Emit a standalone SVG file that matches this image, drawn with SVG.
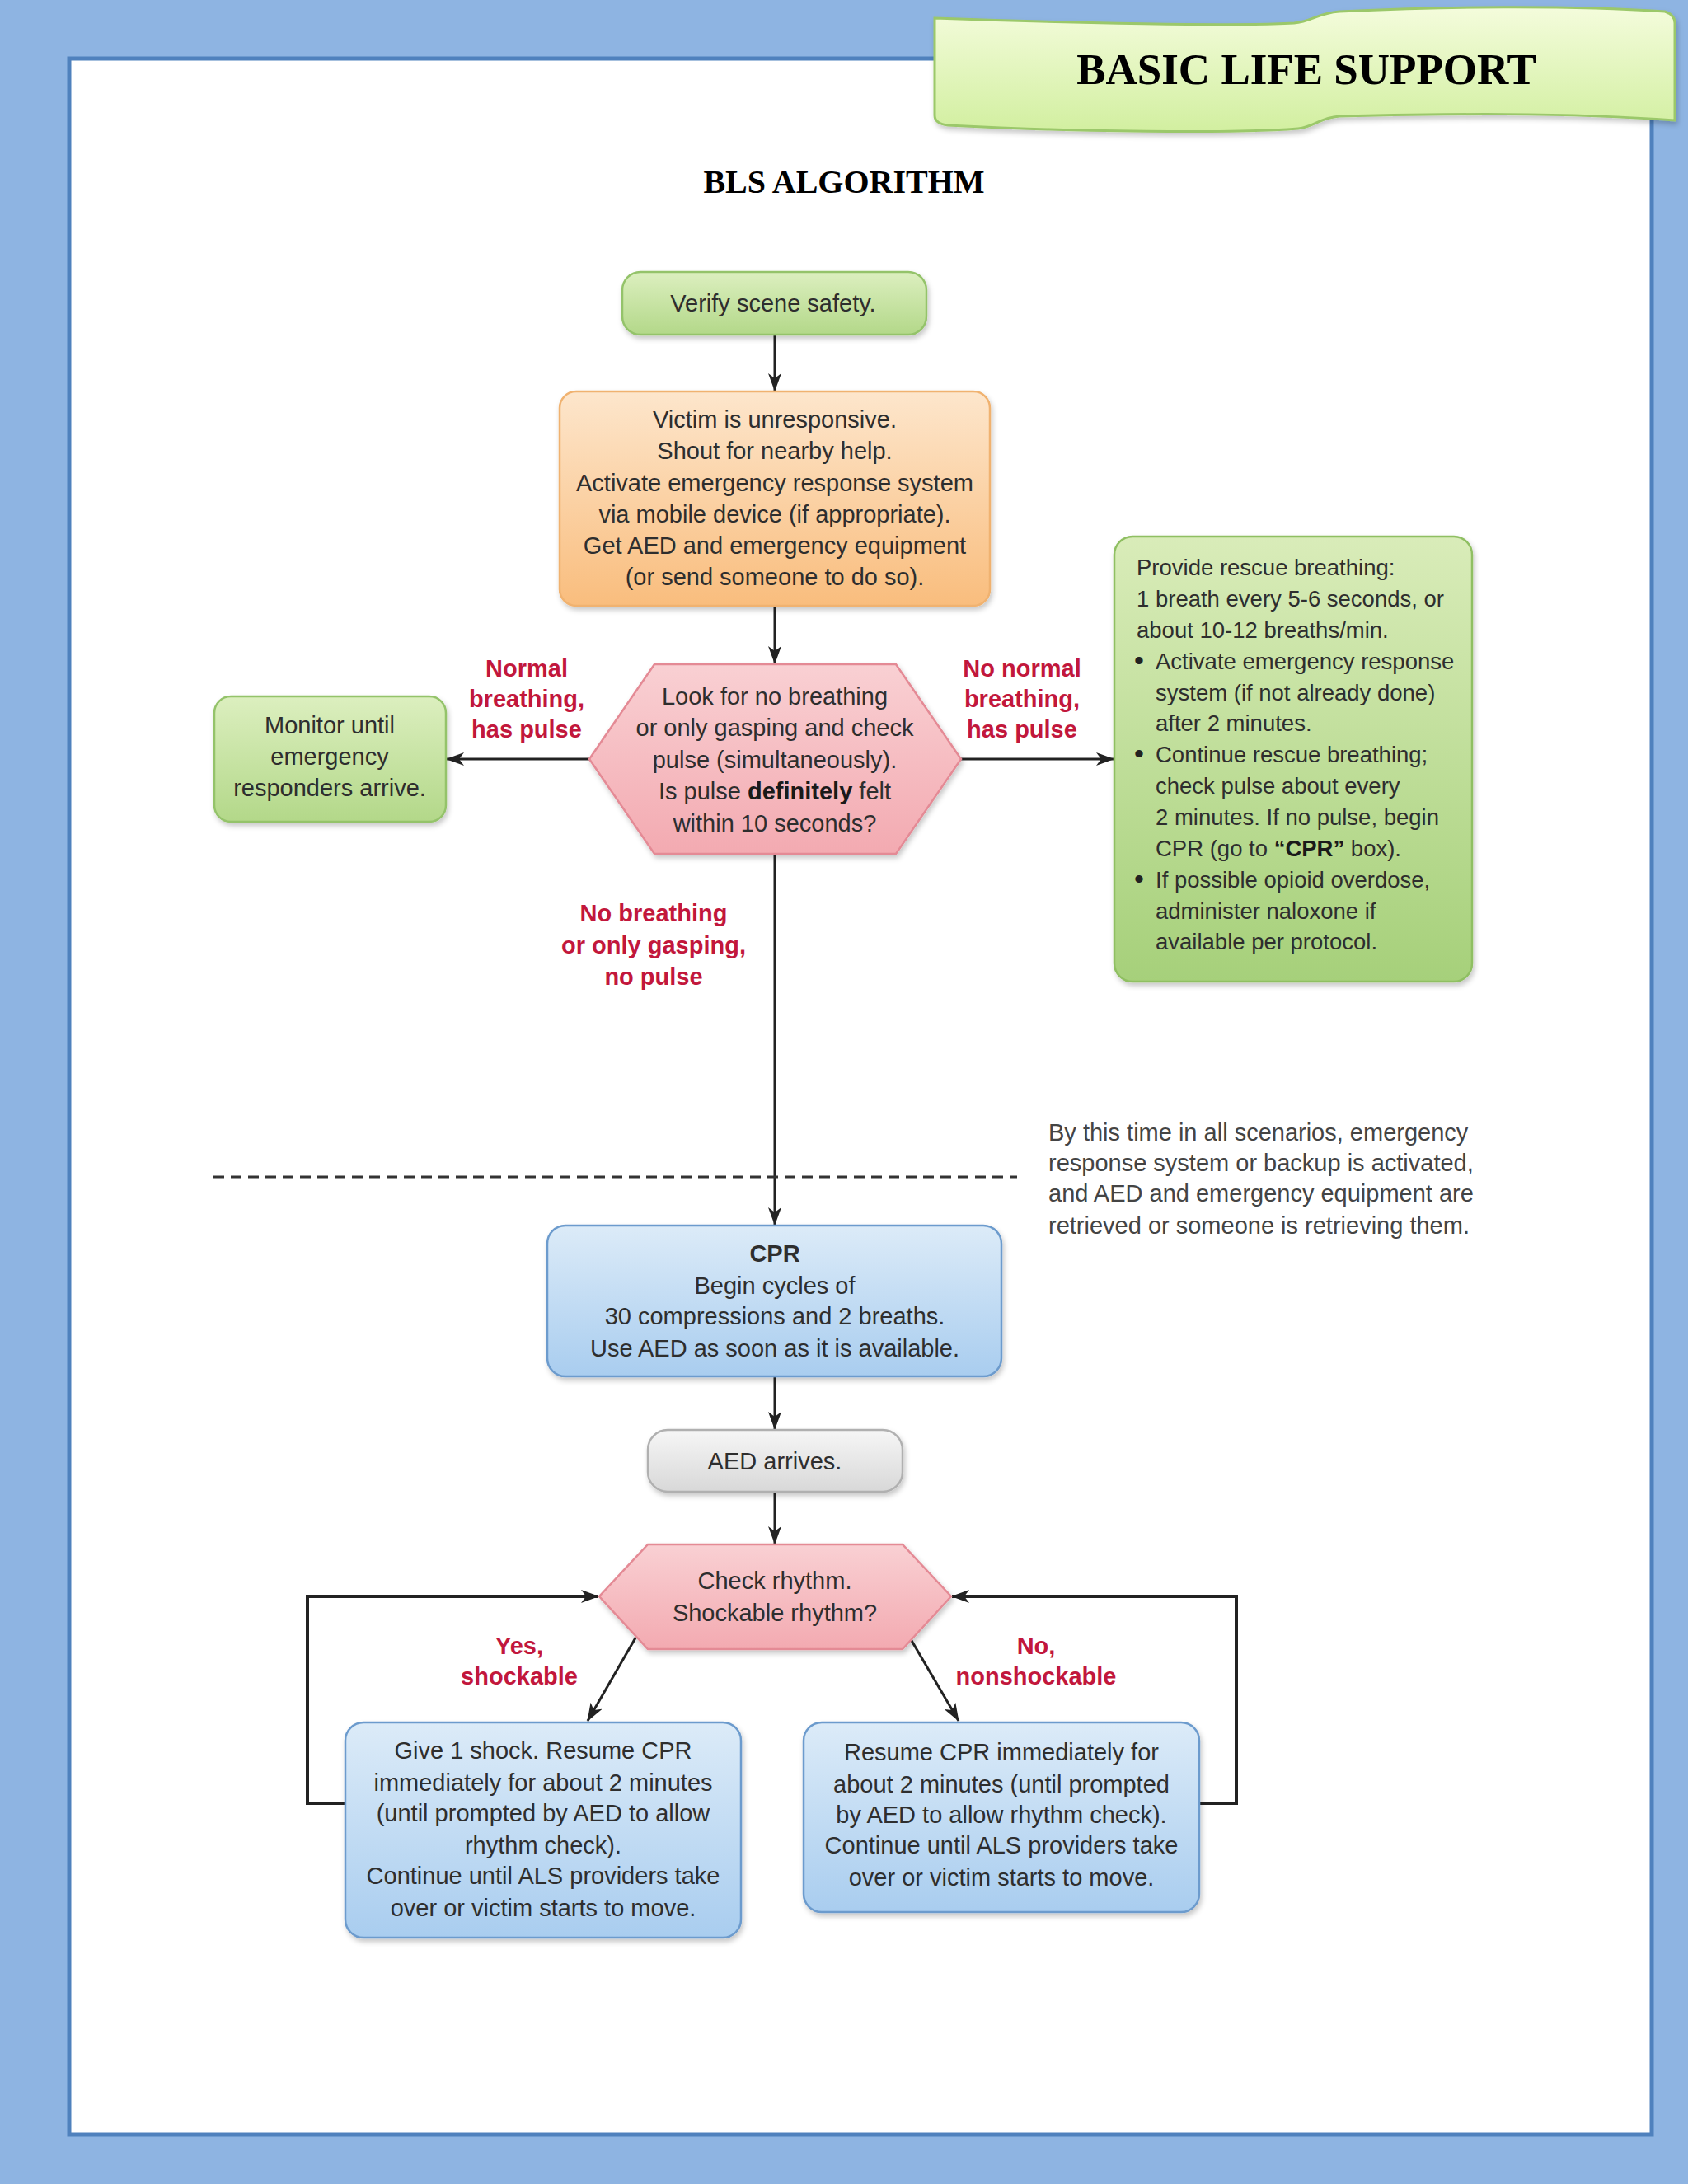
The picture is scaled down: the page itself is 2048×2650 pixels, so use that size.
<svg xmlns="http://www.w3.org/2000/svg" width="2048" height="2650" viewBox="0 0 2048 2650">
<defs>
<linearGradient id="gGreen" x1="0" y1="0" x2="0" y2="1"><stop offset="0" stop-color="#dcefbf"/><stop offset="1" stop-color="#b3d889"/></linearGradient>
<linearGradient id="gGreen2" x1="0" y1="0" x2="0" y2="1"><stop offset="0" stop-color="#d9ecb9"/><stop offset="1" stop-color="#a6d07a"/></linearGradient>
<linearGradient id="gOrange" x1="0" y1="0" x2="0" y2="1"><stop offset="0" stop-color="#fde6cc"/><stop offset="1" stop-color="#f9bd7d"/></linearGradient>
<linearGradient id="gPink" x1="0" y1="0" x2="0" y2="1"><stop offset="0" stop-color="#f9d0d3"/><stop offset="1" stop-color="#f3aab1"/></linearGradient>
<linearGradient id="gBlue" x1="0" y1="0" x2="0" y2="1"><stop offset="0" stop-color="#dcebf8"/><stop offset="1" stop-color="#a9cdef"/></linearGradient>
<linearGradient id="gGray" x1="0" y1="0" x2="0" y2="1"><stop offset="0" stop-color="#f6f6f6"/><stop offset="1" stop-color="#d8d8d8"/></linearGradient>
<linearGradient id="gBanner" x1="0" y1="0" x2="0" y2="1"><stop offset="0" stop-color="#f4fcdc"/><stop offset="1" stop-color="#d2efa0"/></linearGradient>
<filter id="sh" x="-10%" y="-10%" width="120%" height="130%"><feDropShadow dx="2" dy="4" stdDeviation="3" flood-color="#000" flood-opacity="0.22"/></filter>
<marker id="arr" markerUnits="userSpaceOnUse" markerWidth="22" markerHeight="16" refX="21" refY="8" orient="auto"><path d="M0,0 L22,8 L0,16 L6,8 Z" fill="#222"/></marker>
<style>
.t{font-family:"Liberation Sans",Arial,sans-serif;font-size:29px;fill:#2e2e2e;text-anchor:middle}
.tl{font-family:"Liberation Sans",Arial,sans-serif;font-size:27.5px;fill:#2e2e2e}
.bul{font-family:"Liberation Sans",Arial,sans-serif;font-size:34px;fill:#222}
.lab{font-family:"Liberation Sans",Arial,sans-serif;font-size:29px;font-weight:bold;fill:#c2173c;text-anchor:middle}
.note{font-family:"Liberation Sans",Arial,sans-serif;font-size:29px;fill:#444}
.c{fill:none;stroke:#222;stroke-width:3;marker-end:url(#arr)}
.loop{fill:none;stroke:#222;stroke-width:4;marker-end:url(#arr)}
.hd{font-family:"Liberation Serif","Times New Roman",serif;font-weight:bold;fill:#000;text-anchor:middle}
</style>
</defs>
<rect x="0" y="0" width="2048" height="2650" fill="#8eb4e2"/>
<rect x="84" y="71" width="1920" height="2519" fill="#ffffff" stroke="#4f81bd" stroke-width="5"/>

<g id="banner">
<path d="M1134,22 C1300,28 1500,32 1570,28 C1592,26 1598,16 1625,14 C1750,8 1900,6 2020,14 Q2032,18 2032,28 L2032,146 C1900,136 1750,138 1625,141 C1600,143 1595,154 1575,156 C1500,162 1300,160 1150,152 Q1134,150 1134,140 Z" fill="url(#gBanner)" stroke="#9bc86a" stroke-width="3" filter="url(#sh)"/>
<text class="hd" x="1585" y="102" font-size="53">BASIC LIFE SUPPORT</text>
</g>
<text class="hd" x="1024" y="234" font-size="40">BLS ALGORITHM</text>

<g id="connectors">
<path class="c" d="M940,406 L940,474"/>
<path class="c" d="M940,735 L940,805"/>
<path class="c" d="M715,921 L542,921"/>
<path class="c" d="M1166,921 L1351,921"/>
<path class="c" d="M940,1036 L940,1486"/>
<path class="c" d="M940,1670 L940,1734"/>
<path class="c" d="M940,1810 L940,1873"/>
<path class="c" d="M777,1977 L713,2088"/>
<path class="c" d="M1098,1977 L1163,2088"/>
<path class="loop" d="M419,2188 L373,2188 L373,1937 L726,1937"/>
<path class="loop" d="M1455,2188 L1500,2188 L1500,1937 L1155,1937"/>
<line x1="259" y1="1428" x2="1234" y2="1428" stroke="#333" stroke-width="3" stroke-dasharray="13 8"/>
</g>

<g id="verify">
<rect x="755" y="330" width="369" height="76" rx="22" fill="url(#gGreen)" stroke="#94c36a" stroke-width="2.5" filter="url(#sh)"/>
<text class="t" x="938" y="378">Verify scene safety.</text>
</g>

<g id="victim">
<rect x="679" y="475" width="522" height="260" rx="20" fill="url(#gOrange)" stroke="#f0b26f" stroke-width="2.5" filter="url(#sh)"/>
<text class="t" x="940" y="519">Victim is unresponsive.</text>
<text class="t" x="940" y="557">Shout for nearby help.</text>
<text class="t" x="940" y="596">Activate emergency response system</text>
<text class="t" x="940" y="634">via mobile device (if appropriate).</text>
<text class="t" x="940" y="672">Get AED and emergency equipment</text>
<text class="t" x="940" y="710">(or send someone to do so).</text>
</g>

<g id="check-breathing">
<polygon points="715,921 794,806 1087,806 1166,921 1087,1036 794,1036" fill="url(#gPink)" stroke="#e48a95" stroke-width="2.5" filter="url(#sh)"/>
<text class="t" x="940" y="855">Look for no breathing</text>
<text class="t" x="940" y="893">or only gasping and check</text>
<text class="t" x="940" y="932">pulse (simultaneously).</text>
<text class="t" x="940" y="970">Is pulse <tspan font-weight="bold" fill="#1a1a1a">definitely</tspan> felt</text>
<text class="t" x="940" y="1009">within 10 seconds?</text>
</g>

<g id="label-normal">
<text class="lab" x="639" y="821">Normal</text>
<text class="lab" x="639" y="858">breathing,</text>
<text class="lab" x="639" y="895">has pulse</text>
</g>
<g id="label-no-normal">
<text class="lab" x="1240" y="821">No normal</text>
<text class="lab" x="1240" y="858">breathing,</text>
<text class="lab" x="1240" y="895">has pulse</text>
</g>

<g id="monitor">
<rect x="260" y="845" width="281" height="152" rx="20" fill="url(#gGreen)" stroke="#94c36a" stroke-width="2.5" filter="url(#sh)"/>
<text class="t" x="400" y="890">Monitor until</text>
<text class="t" x="400" y="928">emergency</text>
<text class="t" x="400" y="966">responders arrive.</text>
</g>

<g id="rescue-breathing">
<rect x="1352" y="651" width="434" height="540" rx="22" fill="url(#gGreen2)" stroke="#8fbf62" stroke-width="2.5" filter="url(#sh)"/>
<text class="tl" x="1379" y="698">Provide rescue breathing:</text>
<text class="tl" x="1379" y="736">1 breath every 5-6 seconds, or</text>
<text class="tl" x="1379" y="774">about 10-12 breaths/min.</text>
<text class="bul" x="1376" y="813">•</text>
<text class="tl" x="1402" y="812">Activate emergency response</text>
<text class="tl" x="1402" y="850">system (if not already done)</text>
<text class="tl" x="1402" y="887">after 2 minutes.</text>
<text class="bul" x="1376" y="926">•</text>
<text class="tl" x="1402" y="925">Continue rescue breathing;</text>
<text class="tl" x="1402" y="963">check pulse about every</text>
<text class="tl" x="1402" y="1001">2 minutes. If no pulse, begin</text>
<text class="tl" x="1402" y="1039">CPR (go to <tspan font-weight="bold" fill="#1a1a1a">“CPR”</tspan> box).</text>
<text class="bul" x="1376" y="1078">•</text>
<text class="tl" x="1402" y="1077">If possible opioid overdose,</text>
<text class="tl" x="1402" y="1115">administer naloxone if</text>
<text class="tl" x="1402" y="1152">available per protocol.</text>
</g>

<g id="label-no-breathing">
<text class="lab" x="793" y="1118">No breathing</text>
<text class="lab" x="793" y="1157">or only gasping,</text>
<text class="lab" x="793" y="1195">no pulse</text>
</g>

<g id="note">
<text class="note" x="1272" y="1384">By this time in all scenarios, emergency</text>
<text class="note" x="1272" y="1421">response system or backup is activated,</text>
<text class="note" x="1272" y="1458">and AED and emergency equipment are</text>
<text class="note" x="1272" y="1497">retrieved or someone is retrieving them.</text>
</g>

<g id="cpr">
<rect x="664" y="1487" width="551" height="183" rx="22" fill="url(#gBlue)" stroke="#6c9bcd" stroke-width="2.5" filter="url(#sh)"/>
<text class="t" x="940" y="1531" font-weight="bold" fill="#1a1a1a">CPR</text>
<text class="t" x="940" y="1570">Begin cycles of</text>
<text class="t" x="940" y="1607">30 compressions and 2 breaths.</text>
<text class="t" x="940" y="1646">Use AED as soon as it is available.</text>
</g>

<g id="aed">
<rect x="786" y="1735" width="309" height="75" rx="24" fill="url(#gGray)" stroke="#b0b0b0" stroke-width="2.5" filter="url(#sh)"/>
<text class="t" x="940" y="1783">AED arrives.</text>
</g>

<g id="check-rhythm">
<polygon points="727,1937 786,1874 1095,1874 1154,1937 1095,2001 786,2001" fill="url(#gPink)" stroke="#e48a95" stroke-width="2.5" filter="url(#sh)"/>
<text class="t" x="940" y="1928">Check rhythm.</text>
<text class="t" x="940" y="1967">Shockable rhythm?</text>
</g>

<g id="label-yes">
<text class="lab" x="630" y="2007">Yes,</text>
<text class="lab" x="630" y="2044">shockable</text>
</g>
<g id="label-no">
<text class="lab" x="1257" y="2007">No,</text>
<text class="lab" x="1257" y="2044">nonshockable</text>
</g>

<g id="shock">
<rect x="419" y="2090" width="480" height="261" rx="22" fill="url(#gBlue)" stroke="#6c9bcd" stroke-width="2.5" filter="url(#sh)"/>
<text class="t" x="659" y="2134">Give 1 shock. Resume CPR</text>
<text class="t" x="659" y="2173">immediately for about 2 minutes</text>
<text class="t" x="659" y="2210">(until prompted by AED to allow</text>
<text class="t" x="659" y="2249">rhythm check).</text>
<text class="t" x="659" y="2286">Continue until ALS providers take</text>
<text class="t" x="659" y="2325">over or victim starts to move.</text>
</g>

<g id="resume-cpr">
<rect x="975" y="2090" width="480" height="230" rx="22" fill="url(#gBlue)" stroke="#6c9bcd" stroke-width="2.5" filter="url(#sh)"/>
<text class="t" x="1215" y="2136">Resume CPR immediately for</text>
<text class="t" x="1215" y="2175">about 2 minutes (until prompted</text>
<text class="t" x="1215" y="2212">by AED to allow rhythm check).</text>
<text class="t" x="1215" y="2249">Continue until ALS providers take</text>
<text class="t" x="1215" y="2288">over or victim starts to move.</text>
</g>
</svg>
